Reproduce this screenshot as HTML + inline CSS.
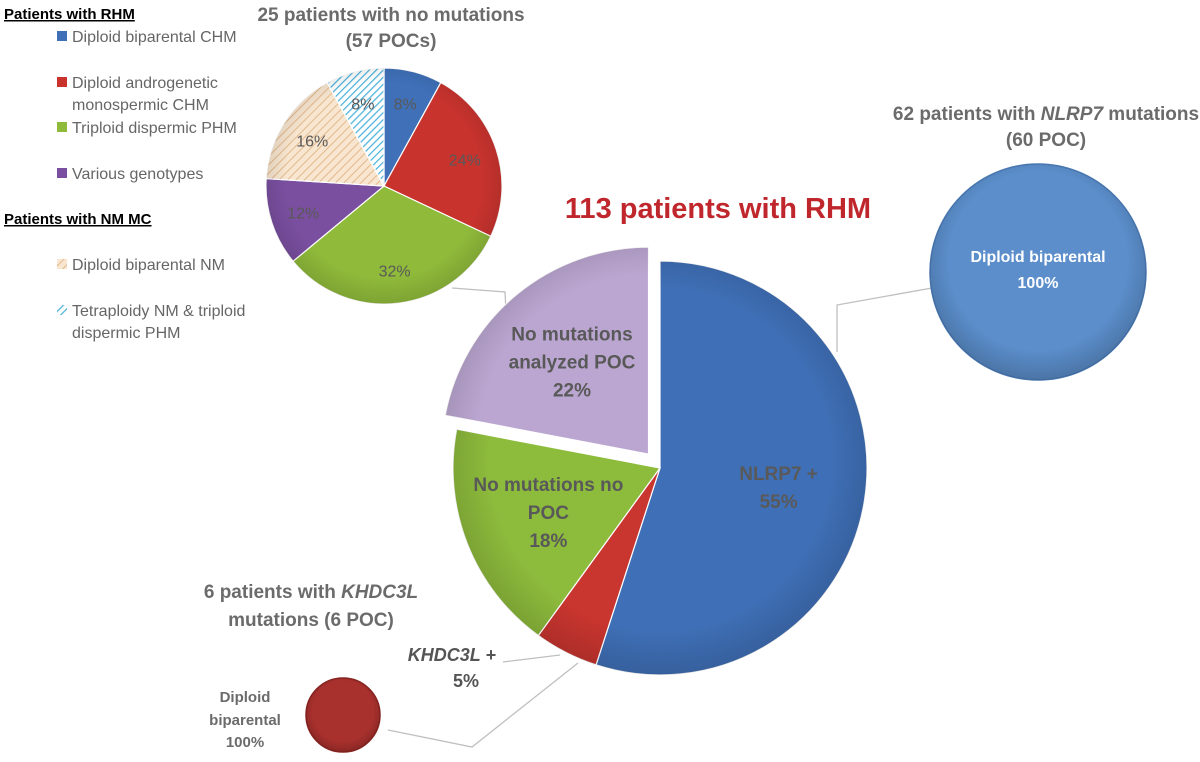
<!DOCTYPE html>
<html><head><meta charset="utf-8"><style>
html,body{margin:0;padding:0;background:#fff;}
svg{display:block;font-family:"Liberation Sans",sans-serif;}
</style></head><body>
<svg id="chart" width="1200" height="762" viewBox="0 0 1200 762" xmlns="http://www.w3.org/2000/svg">
<defs>
<pattern id="hatchTan" width="6" height="6" patternUnits="userSpaceOnUse" patternTransform="rotate(45)"><rect width="6" height="6" fill="#f8e6d0"/><line x1="0" y1="0" x2="0" y2="6" stroke="#e2b98c" stroke-width="2"/></pattern>
<pattern id="hatchCyan" width="5" height="5" patternUnits="userSpaceOnUse" patternTransform="rotate(45)"><rect width="5" height="5" fill="#ffffff"/><line x1="0" y1="0" x2="0" y2="5" stroke="#4cb3dc" stroke-width="2.5"/></pattern>
<radialGradient id="shade" cx="0.5" cy="0.45" r="0.55"><stop offset="0.75" stop-color="#000" stop-opacity="0"/><stop offset="1" stop-color="#000" stop-opacity="0.18"/></radialGradient>
<radialGradient id="shadeBig" gradientUnits="userSpaceOnUse" cx="660" cy="460" r="228"><stop offset="0.75" stop-color="#000" stop-opacity="0"/><stop offset="1" stop-color="#000" stop-opacity="0.18"/></radialGradient>
<radialGradient id="shadeSmall" gradientUnits="userSpaceOnUse" cx="384" cy="180" r="130"><stop offset="0.75" stop-color="#000" stop-opacity="0"/><stop offset="1" stop-color="#000" stop-opacity="0.15"/></radialGradient>
</defs>
<g id="lines" fill="none" stroke="#bfbfbf" stroke-width="1.3">
<polyline points="452,288 505,292 507,330"/>
<polyline points="837,352 837,305 932,288"/>
<polyline points="578,663 472,747 388,730"/>
<polyline points="503,662 560,655"/>
</g>
<g id="small"></g>
<g id="big"></g>
<circle cx="1038" cy="272" r="108" fill="#5b8ecb" stroke="#4a79b3" stroke-width="1.5"/>
<circle cx="1038" cy="272" r="108" fill="url(#shade)"/>
<circle cx="343" cy="715" r="37" fill="#a8302d" stroke="#8a2522" stroke-width="1.5"/>
<circle cx="343" cy="715" r="37" fill="url(#shade)"/>

<g fill="#666" font-size="16">
<text x="4" y="19" font-weight="bold" fill="#000" font-size="15" text-decoration="underline">Patients with RHM</text>
<rect x="57" y="31" width="10" height="10" fill="#3f70b8"/>
<text x="72" y="42">Diploid biparental CHM</text>
<rect x="57" y="77" width="10" height="10" fill="#c8332e"/>
<text x="72" y="88">Diploid androgenetic</text>
<text x="72" y="110">monospermic CHM</text>
<rect x="57" y="122" width="10" height="10" fill="#8fba3a"/>
<text x="72" y="133">Triploid dispermic PHM</text>
<rect x="57" y="168" width="10" height="10" fill="#7a4fa0"/>
<text x="72" y="179">Various genotypes</text>
<text x="4" y="224" font-weight="bold" fill="#000" font-size="15" text-decoration="underline">Patients with NM MC</text>
<rect x="57" y="259" width="10" height="10" fill="url(#hatchTan)"/>
<text x="72" y="270">Diploid biparental NM</text>
<rect x="57" y="305" width="10" height="10" fill="url(#hatchCyan)"/>
<text x="72" y="316">Tetraploidy NM &amp; triploid</text>
<text x="72" y="338">dispermic PHM</text>
</g>

<g fill="#6b6b6b" font-weight="bold" font-size="19" text-anchor="middle">
<text x="391" y="21">25 patients with no mutations</text>
<text x="391" y="47">(57 POCs)</text>
<text x="1046" y="120">62 patients with <tspan font-style="italic">NLRP7</tspan> mutations</text>
<text x="1046" y="146">(60 POC)</text>
<text x="311" y="598">6 patients with <tspan font-style="italic">KHDC3L</tspan></text>
<text x="311" y="626">mutations (6 POC)</text>
</g>
<text x="718" y="218" fill="#c0272d" font-weight="bold" font-size="29" text-anchor="middle">113 patients with RHM</text>
<g fill="#fff" font-weight="bold" font-size="16" text-anchor="middle">
<text x="1038" y="262">Diploid biparental</text>
<text x="1038" y="288">100%</text>
</g>
<g fill="#6b6b6b" font-weight="bold" font-size="15" text-anchor="middle">
<text x="245" y="702">Diploid</text>
<text x="245" y="725">biparental</text>
<text x="245" y="747">100%</text>
</g>
<g fill="#555" font-weight="bold" font-size="18" text-anchor="middle">
<text x="452" y="661"><tspan font-style="italic">KHDC3L</tspan> +</text>
<text x="466" y="687">5%</text>
</g>
</svg>
<script>
const smallCats = ['Diploid biparental CHM','Diploid androgenetic monospermic CHM','Triploid dispermic PHM','Various genotypes','Diploid biparental NM','Tetraploidy NM & triploid dispermic PHM'];
const smallValues = [8,24,32,12,16,8];
const smallFills = ['#3f70b8','#c8332e','#8fba3a','#7a4fa0','url(#hatchTan)','url(#hatchCyan)'];
const bigCats = ['NLRP7 +','KHDC3L +','No mutations no POC','No mutations analyzed POC'];
const bigValues = [55,5,18,22];
const bigFills = ['#3f6fb6','#c9352f','#8dbb3c','#bba6d1'];
const bigLabels = [['NLRP7 +','55%'],null,['No mutations no','POC','18%'],['No mutations','analyzed POC','22%']];
const NS='http://www.w3.org/2000/svg';
function pt(cx,cy,r,a){return [cx+r*Math.sin(a),cy-r*Math.cos(a)];}
function drawPie(g,cx,cy,r,vals,fills,explode,stroke,shadeId){
  const tot=vals.reduce((a,b)=>a+b,0);let a0=0;const out=[];
  vals.forEach((v,i)=>{
    const a1=a0+v/tot*2*Math.PI,mid=(a0+a1)/2;
    let ox=0,oy=0;if(explode[i]){ox=explode[i]*Math.sin(mid);oy=-explode[i]*Math.cos(mid);}
    const p0=pt(cx,cy,r,a0),p1=pt(cx,cy,r,a1);
    const d=`M${cx},${cy}L${p0[0]},${p0[1]}A${r},${r} 0 ${a1-a0>Math.PI?1:0} 1 ${p1[0]},${p1[1]}Z`;
    const sg=document.createElementNS(NS,'g');
    sg.setAttribute('transform',`translate(${ox},${oy})`);
    
    
    const p=document.createElementNS(NS,'path');
    p.setAttribute('d',d);
    p.setAttribute('fill',fills[i]);p.setAttribute('stroke',stroke);p.setAttribute('stroke-width','1.2');
    
    
    sg.appendChild(p);
    const s=document.createElementNS(NS,'path');
    s.setAttribute('d',d);s.setAttribute('fill',`url(#${shadeId})`);
    
    
    sg.appendChild(s);
    g.appendChild(sg);
    out.push({mid,ox,oy});a0=a1;});
  return out;
}
function txt(g,x,y,s,size,bold,name){
  const t=document.createElementNS(NS,'text');
  t.setAttribute('x',x);t.setAttribute('y',y);t.setAttribute('text-anchor','middle');
  t.setAttribute('font-size',size);t.setAttribute('fill','#595959');if(bold)t.setAttribute('font-weight','bold');
  t.textContent=s;
  
  
  g.appendChild(t);
}
const gs=document.getElementById('small');
const so=drawPie(gs,384,186,118,smallValues,smallFills,smallValues.map(()=>0),'#ffffff','shadeSmall');
so.forEach((o,i)=>{const p=pt(384,186,118*0.72,o.mid);txt(gs,p[0],p[1]+6,smallValues[i]+'%',16,false,'small-slice-label');});
const gb=document.getElementById('big');
const bo=drawPie(gb,660,468,207,bigValues,bigFills,[0,0,0,18],'#ffffff','shadeBig');
bo.forEach((o,i)=>{if(!bigLabels[i])return;const p=pt(660+o.ox,468+o.oy,207*0.58,o.mid);
  const L=bigLabels[i];L.forEach((s,j)=>txt(gb,p[0],p[1]+(j-(L.length-1)/2)*28+7,s,19,true,'main-slice-label'));});
</script>
</body></html>
